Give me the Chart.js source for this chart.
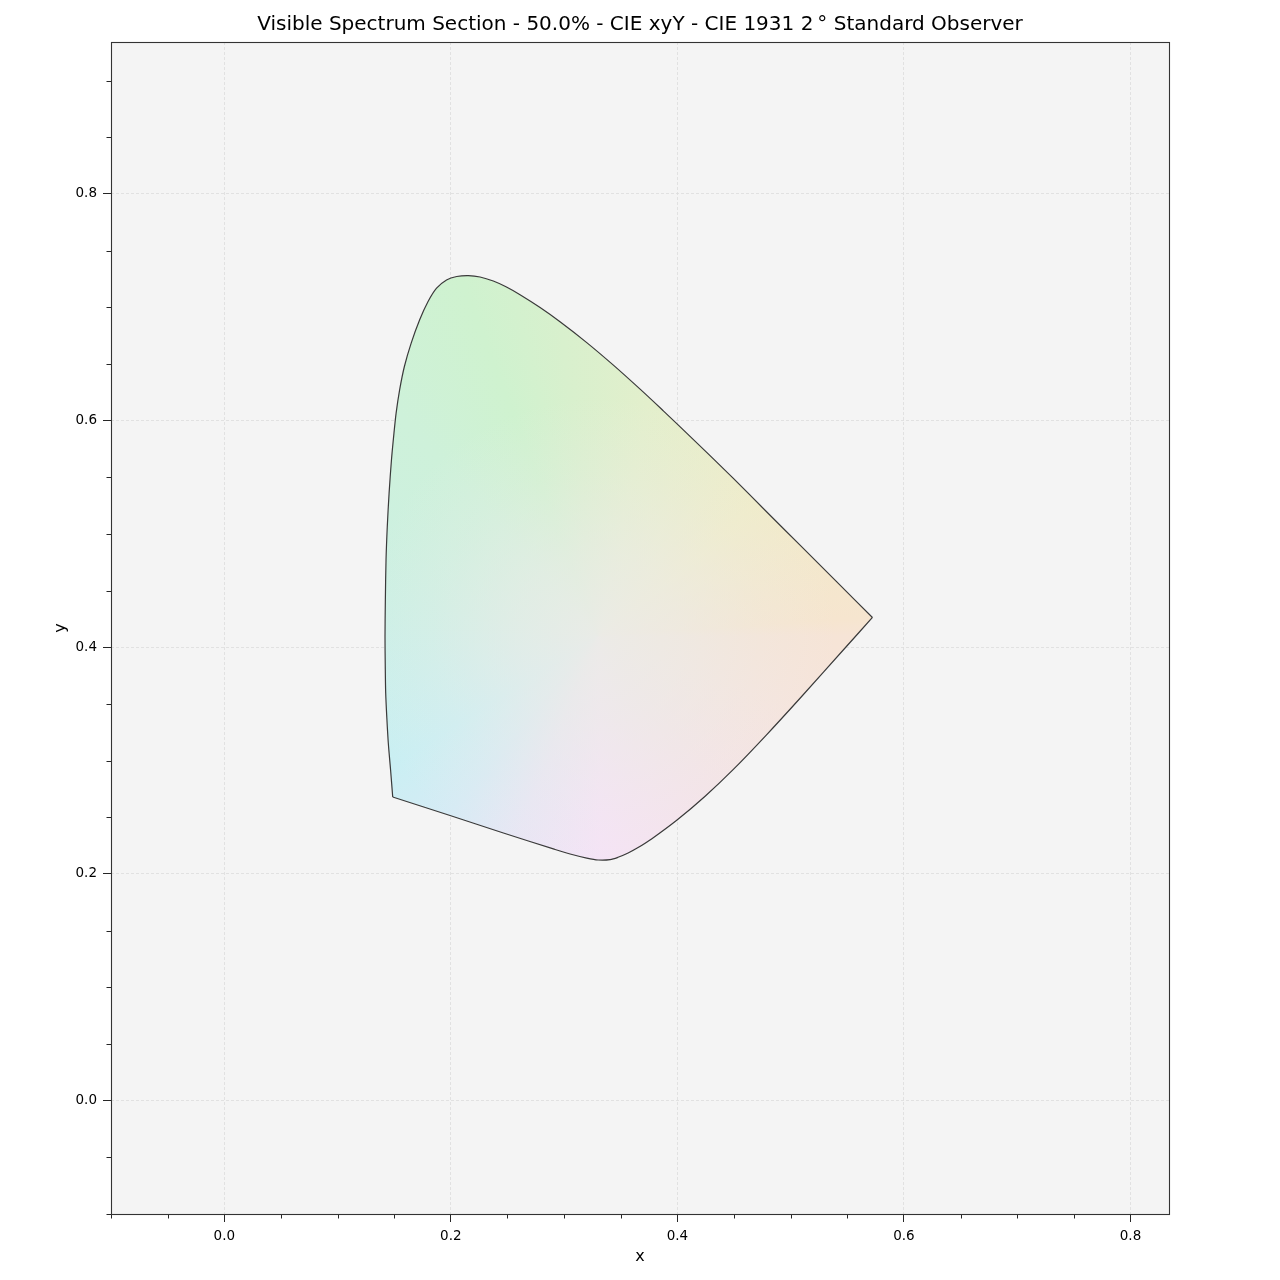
<!DOCTYPE html>
<html><head><meta charset="utf-8">
<script src="https://cdn.jsdelivr.net/npm/chart.js@4/dist/chart.umd.min.js"></script>
<style>html,body{margin:0;padding:0;background:#fff}canvas{display:block}</style>
</head><body>
<canvas id="c" width="1280" height="1280"></canvas>
<script>
// Section boundary of the visible spectrum at 50% luminance (CIE xy)
const LOCUS_X = [0.1487,0.1468,0.1448,0.1435,0.1425,0.1421,0.1419,0.1422,0.1428,0.1439,0.1455,0.1476,0.1498,0.1517,0.1548,0.1590,0.1650,0.1725,0.1799,0.1874,0.1962,0.2052,
  0.2155,0.2258,0.2375,0.2487,0.2611,0.2788,0.2964,0.3200,0.3435,0.3671,0.3876,0.3997,0.4245,0.4492,0.4783,0.5083,0.5401,0.5722,
  0.5496,0.5083,0.4783,0.4492,0.4245,0.3997,0.3772,0.3653,0.3565,0.3476,0.3406,0.3300,0.3200,0.3053,0.2905,0.2464,0.1993,0.1487];
const LOCUS_Y = [0.2679,0.2919,0.3155,0.3378,0.3596,0.3846,0.4095,0.4419,0.4772,0.5066,0.5360,0.5654,0.5889,0.6066,0.6271,0.6477,0.6683,0.6889,0.7050,0.7168,0.7241,0.7271,
  0.7279,0.7267,0.7231,0.7180,0.7110,0.6997,0.6872,0.6688,0.6489,0.6277,0.6086,0.5971,0.5733,0.5492,0.5200,0.4901,0.4583,0.4263,
  0.4011,0.3550,0.3223,0.2920,0.2686,0.2476,0.2309,0.2233,0.2185,0.2147,0.2126,0.2123,0.2140,0.2176,0.2221,0.2361,0.2516,0.2679];
const TIP_INDEX = 39; // sharp vertex of the section (long-wavelength end)

const X_RANGE = [-0.1, 0.834];
const Y_RANGE = [-0.1, 0.934];
const MAJOR_STEP = 0.2;
const MINOR_STEP = 0.05;
const TITLE = 'Visible Spectrum Section - 50.0% - CIE xyY - CIE 1931 2\u2009\u00b0 Standard Observer';
const X_LABEL = 'x';
const Y_LABEL = 'y';

// colour styling (not data)
const HUE_CENTER = [0.33, 0.41];
const HUE_STOPS = [
  [0, '#f6e4d6'], [19.4, '#f6e4dc'], [54.7, '#f5e3e8'], [89.5, '#f5e3f6'], [111.9, '#e8e6f5'],
  [130, '#d6ebf5'], [148, '#caeff3'], [190, '#ccf0e4'], [228, '#cef1da'], [249.1, '#cff2cf'],
  [263.1, '#d8f0cd'], [282.4, '#e3efcc'], [320, '#f0ecc8'], [356.1, '#f6e5cf'], [360, '#f6e4d6']
];
const FONT = 'DejaVu Sans';

const points = LOCUS_X.map((x, i) => ({x, y: LOCUS_Y[i]}));
const upperEdge = points.slice(0, TIP_INDEX + 1);
const lowerEdge = points.slice(TIP_INDEX);
const isMajor = v => Math.abs(v / MAJOR_STEP - Math.round(v / MAJOR_STEP)) < 1e-6;

function hueFill(context) {
  const chart = context.chart;
  const {ctx, chartArea, scales} = chart;
  if (!chartArea || !scales.x || !scales.y) return '#e8eee6';
  const cx = scales.x.getPixelForValue(HUE_CENTER[0]);
  const cy = scales.y.getPixelForValue(HUE_CENTER[1]);
  if (!ctx.createConicGradient) return '#e8eee6';
  const g = ctx.createConicGradient(0, cx, cy);
  HUE_STOPS.forEach(([a, c]) => g.addColorStop(a / 360, c));
  return g;
}
function grayFill(context) {
  const chart = context.chart;
  const {ctx, chartArea, scales} = chart;
  if (!chartArea || !scales.x || !scales.y) return 'rgba(0,0,0,0)';
  const cx = scales.x.getPixelForValue(HUE_CENTER[0]);
  const cy = scales.y.getPixelForValue(HUE_CENTER[1]);
  const r = scales.x.getPixelForValue(HUE_CENTER[0] + 0.21) - cx;
  const g = ctx.createRadialGradient(cx, cy, 0, cx, cy, r);
  g.addColorStop(0, 'rgba(235,235,231,0.95)');
  g.addColorStop(0.35, 'rgba(235,235,231,0.65)');
  g.addColorStop(0.7, 'rgba(235,235,231,0.25)');
  g.addColorStop(1, 'rgba(235,235,231,0)');
  return g;
}

const frame = {
  id: 'frame',
  beforeDraw(chart) {
    const {ctx, chartArea: a} = chart;
    ctx.save();
    ctx.fillStyle = '#f4f4f4';
    ctx.fillRect(a.left, a.top, a.right - a.left, a.bottom - a.top);
    ctx.restore();
  },
  afterDraw(chart) {
    const {ctx, chartArea: a, scales: {x, y}} = chart;
    ctx.save();
    ctx.strokeStyle = '#262626';
    ctx.lineWidth = 1;
    ctx.beginPath();
    for (let k = Math.ceil(x.min / MINOR_STEP - 1e-9); k * MINOR_STEP <= x.max + 1e-9; k++) {
      const v = k * MINOR_STEP;
      if (isMajor(v)) continue;
      const px = Math.round(x.getPixelForValue(v)) + 0.5;
      ctx.moveTo(px, a.bottom); ctx.lineTo(px, a.bottom + 4.5);
    }
    for (let k = Math.ceil(y.min / MINOR_STEP - 1e-9); k * MINOR_STEP <= y.max + 1e-9; k++) {
      const v = k * MINOR_STEP;
      if (isMajor(v)) continue;
      const py = Math.round(y.getPixelForValue(v)) + 0.5;
      ctx.moveTo(a.left, py); ctx.lineTo(a.left - 4.5, py);
    }
    ctx.stroke();
    ctx.strokeStyle = '#333333';
    ctx.lineWidth = 1.1;
    ctx.strokeRect(Math.round(a.left) + 0.5, Math.round(a.top) + 0.5,
      Math.round(a.right - a.left), Math.round(a.bottom - a.top));
    ctx.restore();
  }
};

const axisCommon = {
  type: 'linear',
  z: 1,
  grid: {
    color: '#dcdcdc', lineWidth: 0.8, drawTicks: true, tickLength: 8,
    tickColor: '#262626', tickWidth: 1, tickBorderDash: []
  },
  border: {display: false, dash: [3, 2]},
  ticks: {
    stepSize: MAJOR_STEP, includeBounds: false, padding: 6, color: '#000',
    font: {family: FONT, size: 13.5},
    callback: v => Number(v).toFixed(1)
  }
};

const edgeStyle = {showLine: true, tension: 0.3, pointRadius: 0, borderWidth: 1.2,
  borderColor: '#3a3a3a', fill: false, backgroundColor: 'rgba(0,0,0,0)', order: 0};

new Chart(document.getElementById('c'), {
  type: 'scatter',
  data: {
    datasets: [
      Object.assign({data: upperEdge}, edgeStyle),
      Object.assign({data: lowerEdge}, edgeStyle),
      {data: points, showLine: true, tension: 0, pointRadius: 0, borderWidth: 0,
       borderColor: 'rgba(0,0,0,0)', fill: 'shape', backgroundColor: grayFill, order: 1},
      {data: points, showLine: true, tension: 0, pointRadius: 0, borderWidth: 0,
       borderColor: 'rgba(0,0,0,0)', fill: 'shape', backgroundColor: hueFill, order: 2}
    ]
  },
  options: {
    responsive: false, animation: false, devicePixelRatio: 1,
    layout: {padding: 0},
    plugins: {
      legend: {display: false}, tooltip: {enabled: false},
      title: {display: true, text: TITLE, color: '#000',
        font: {family: FONT, size: 20, weight: 'normal', lineHeight: 1.2},
        padding: {top: 13, bottom: 5}}
    },
    scales: {
      x: Object.assign({}, axisCommon, {
        min: X_RANGE[0], max: X_RANGE[1], position: 'bottom',
        afterBuildTicks: s => { s.ticks = s.ticks.filter(t => isMajor(t.value)); },
        afterFit: s => { s.height = 66; },
        title: {display: true, text: X_LABEL, color: '#000', font: {family: FONT, size: 16}, padding: {top: 0, bottom: 14}}
      }),
      y: Object.assign({}, axisCommon, {
        min: Y_RANGE[0], max: Y_RANGE[1], position: 'left',
        afterBuildTicks: s => { s.ticks = s.ticks.filter(t => isMajor(t.value)); },
        afterFit: s => { s.width = 111; },
        title: {display: true, text: Y_LABEL, color: '#000', font: {family: FONT, size: 16}, padding: {top: 51, bottom: 0}}
      }),
      yRight: {
        type: 'linear', position: 'right', min: Y_RANGE[0], max: Y_RANGE[1],
        grid: {display: false, drawTicks: false}, border: {display: false},
        ticks: {display: false},
        afterFit: s => { s.width = 111; }
      }
    }
  },
  plugins: [frame]
});
</script>
</body></html>
